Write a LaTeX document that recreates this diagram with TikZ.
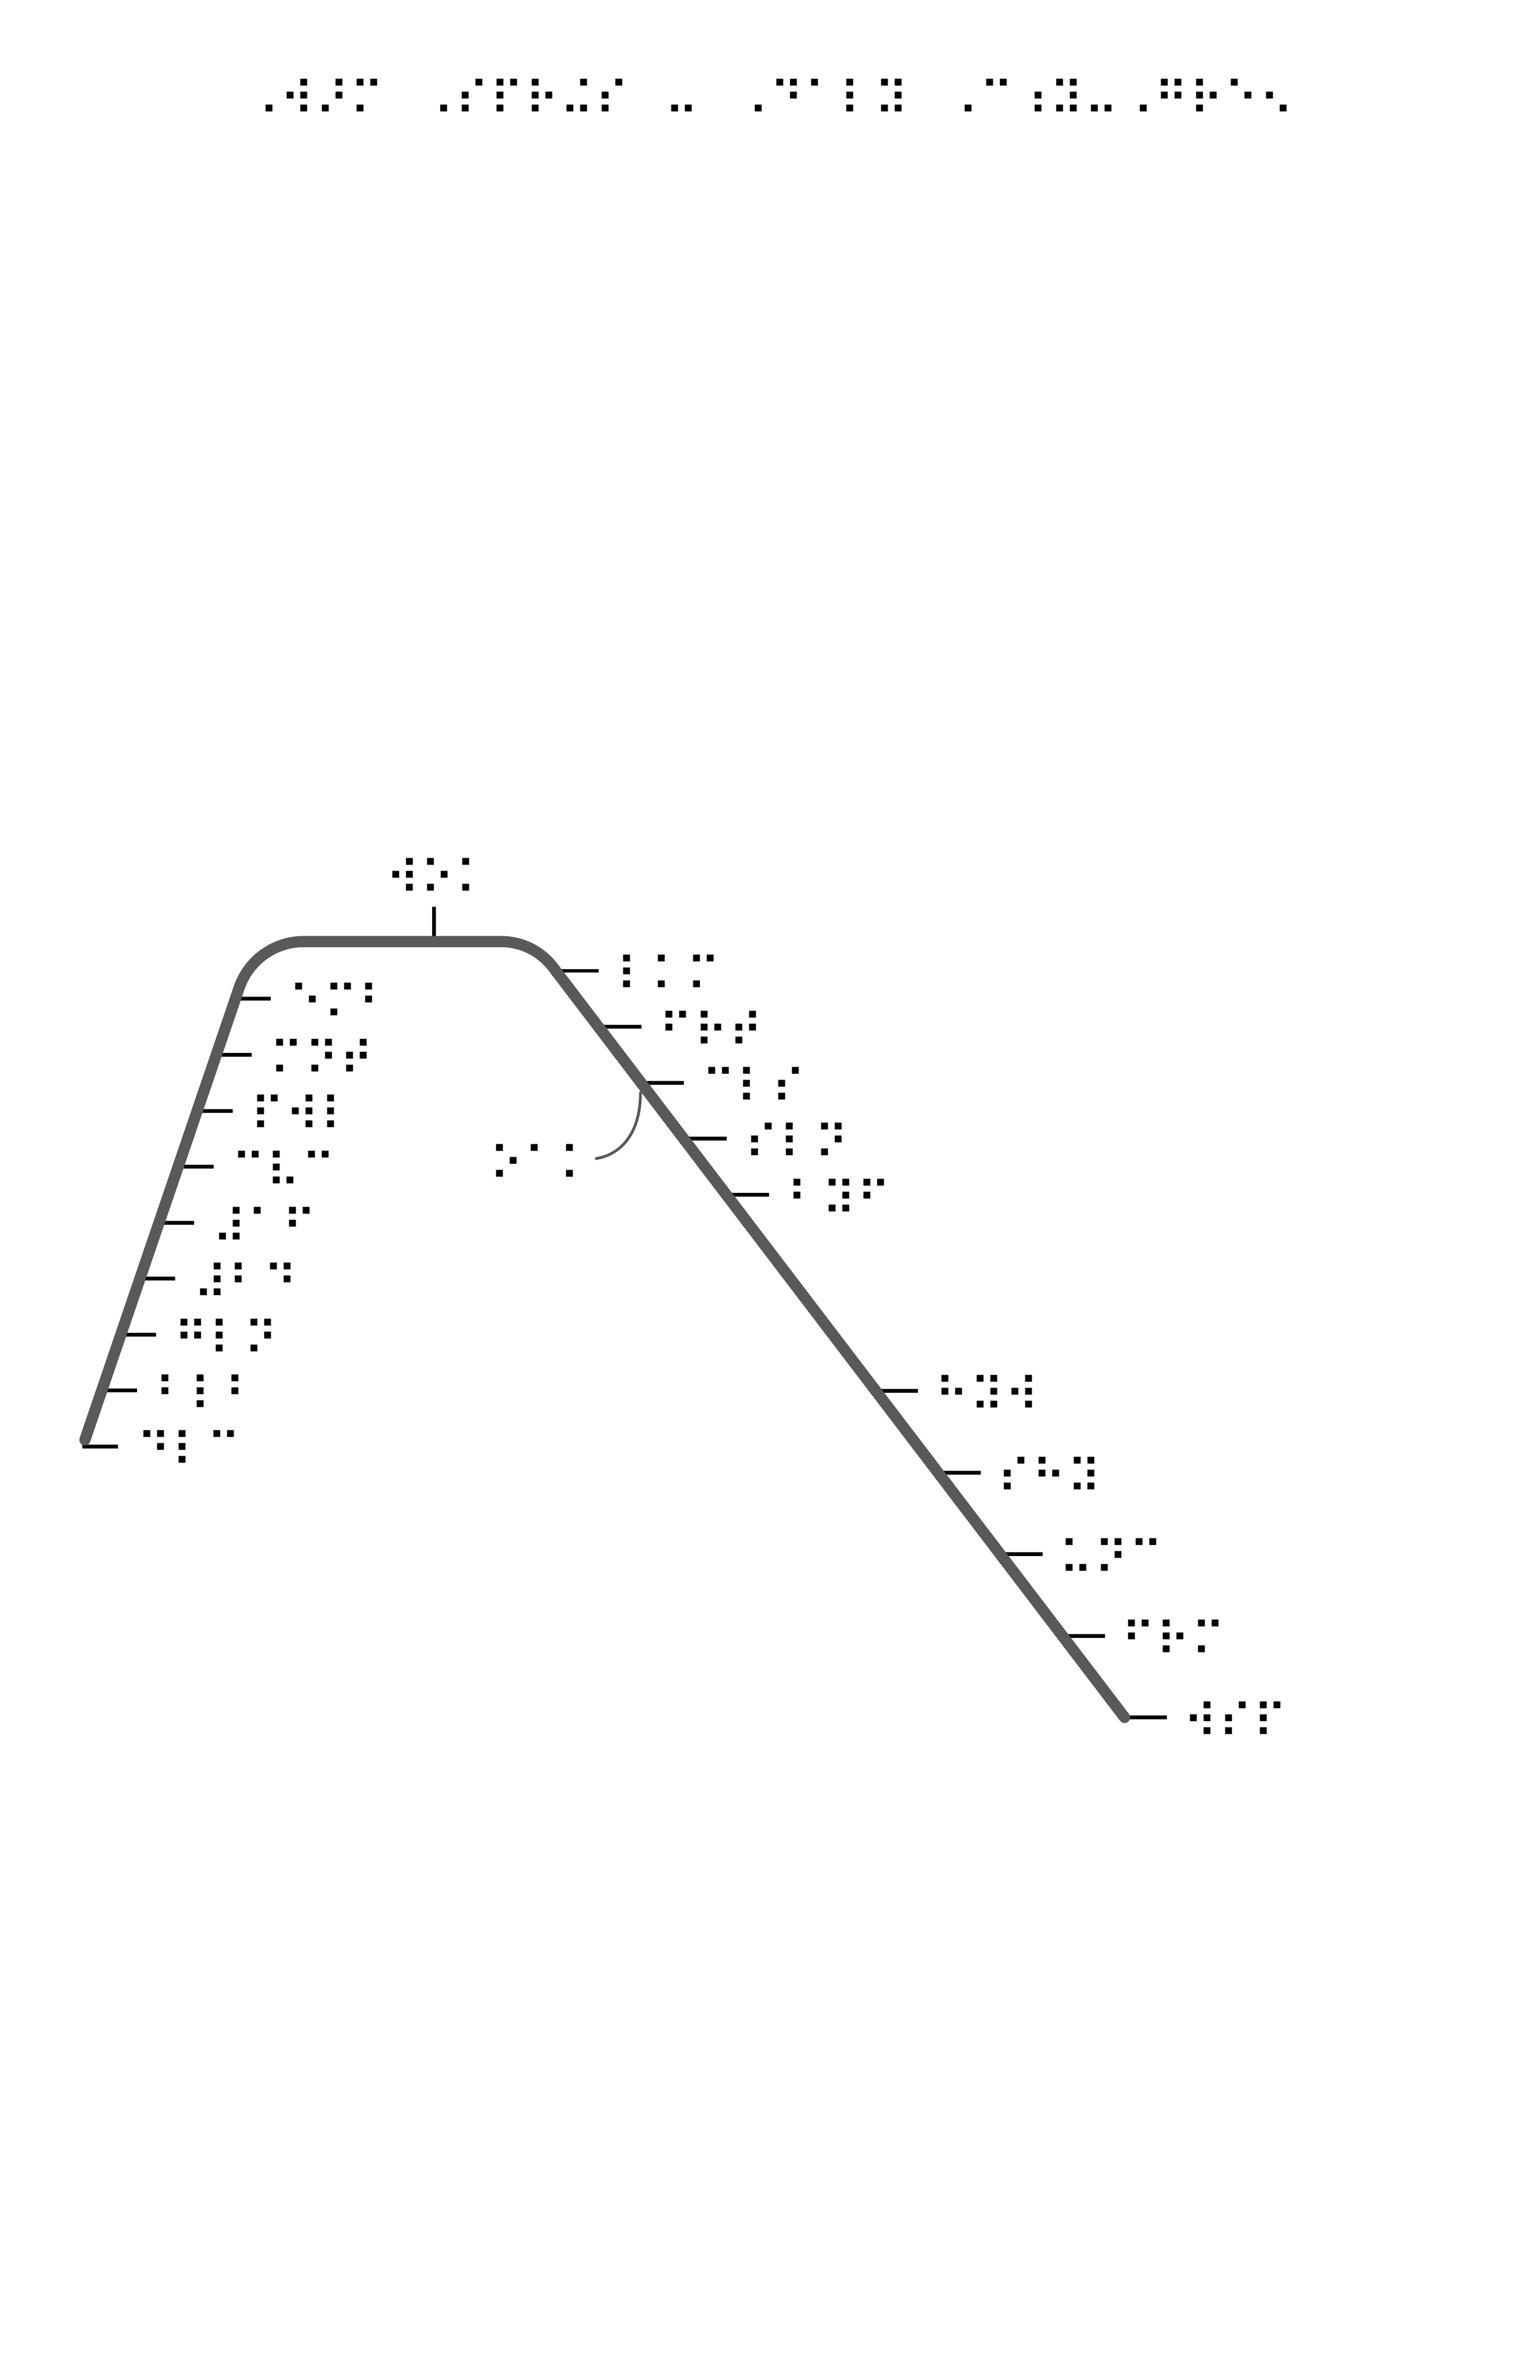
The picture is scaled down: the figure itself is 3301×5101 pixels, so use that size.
\documentclass[tikz,border=0pt]{standalone}
\usepackage{fontspec}
\newfontfamily\brfont{DejaVu Sans}
\usetikzlibrary{calc}
\definecolor{routegray}{RGB}{89,89,91}

% one braille cell every 18pt
\newcommand\brl[1]{\brlcell#1\relax}
\def\brlcell#1{\ifx#1\relax\else\makebox[18pt][l]{#1}\expandafter\brlcell\fi}

\tikzset{
  route/.style={line width=5.76pt, color=routegray, line cap=round},
  stub/.style={line width=1.92pt, color=black},
  link/.style={line width=1.44pt, color=routegray, line cap=round},
  braille/.style={font=\brfont\fontsize{24pt}{24pt}\selectfont, inner sep=0pt,
    anchor=base west, xshift=-5.6pt, yshift=-10.6pt},
}

\begin{document}
\begin{tikzpicture}[x=0.24pt,y=0.24pt,yscale=-1,xscale=1]
\useasboundingbox (0,0) rectangle (3301,5101);

% Text Node: title
\node[braille] (title) at (548.3,203.3) {\brl{⠠⠺⠜⠍⠀⠠⠎⠏⠗⠬⠎⠀⠤⠀⠠⠙⠁⠇⠽⠀⠠⠉⠰⠽⠤⠠⠛⠗⠑⠢}};

%Straight Lines: top stub
\coordinate (wok-p) at (930,2018);
\draw[stub] (wok-p) -- ++(0,-75);
\node[braille] (wok) at (849,1873) {\brl{⠺⠕⠅}};

%Straight Lines: left leg stubs
\coordinate (emb-p) at (504.6,2140.7);
\coordinate (mnt-p) at (463.6,2260.7);
\coordinate (pwl-p) at (422.6,2380.7);
\coordinate (cvc-p) at (381.6,2500.7);
\coordinate (n16-p) at (340.7,2620.7);
\coordinate (n24-p) at (299.8,2740.4);
\coordinate (gln-p) at (258.8,2860.4);
\coordinate (blb-p) at (217.8,2980.4);
\coordinate (dlc-p) at (177,3100);
\draw[stub] (emb-p) -- ++(76,0);
\draw[stub] (mnt-p) -- ++(76,0);
\draw[stub] (pwl-p) -- ++(76,0);
\draw[stub] (cvc-p) -- ++(76,0);
\draw[stub] (n16-p) -- ++(76,0);
\draw[stub] (n24-p) -- ++(76,0);
\draw[stub] (gln-p) -- ++(76,0);
\draw[stub] (blb-p) -- ++(76,0);
\draw[stub] (dlc-p) -- ++(76,0);

%Straight Lines: right leg stubs
\coordinate (lkm-p) at (1191.4,2080.7);
\coordinate (frt-p) at (1282.8,2200.7);
\coordinate (cls-p) at (1374.2,2320.7);
\coordinate (sln-p) at (1465.7,2440.7);
\coordinate (byf-p) at (1557.1,2560.7);
\coordinate (hyw-p) at (1877.4,2981);
\coordinate (shy-p) at (2011.3,3156.7);
\coordinate (unc-p) at (2144.3,3331.3);
\coordinate (frm-p) at (2277.4,3506);
\coordinate (wsp-p) at (2410.8,3681);
\draw[stub] (lkm-p) -- ++(92,0);
\draw[stub] (frt-p) -- ++(92,0);
\draw[stub] (cls-p) -- ++(92,0);
\draw[stub] (sln-p) -- ++(92,0);
\draw[stub] (byf-p) -- ++(92,0);
\draw[stub] (hyw-p) -- ++(91,0);
\draw[stub] (shy-p) -- ++(91,0);
\draw[stub] (unc-p) -- ++(91,0);
\draw[stub] (frm-p) -- ++(91,0);
\draw[stub] (wsp-p) -- ++(91,0);

%Curve: airport link
\coordinate (oak-j) at (1373,2342);
\coordinate (oak-e) at (1278,2483);
\draw[link] (oak-j) .. controls (1373,2430) and (1330,2475) .. (oak-e);
\node[braille] (oak) at (1071.7,2486.7) {\brl{⠕⠁⠅}};

%Shape: route line
\draw[route] (182,3086) -- (512.7,2117) .. controls (532.9,2057.8) and (588.5,2018) .. (651.1,2018) -- (1074.3,2018) .. controls (1118,2018) and (1159.1,2038.3) .. (1185.6,2073.1) -- (wsp-p);

% Text Node
\node[braille] (emb) at (641.6,2140.7) {\brl{⠑⠍⠃}};
\node[braille] (mnt) at (600.6,2260.7) {\brl{⠍⠝⠞}};
\node[braille] (pwl) at (559.6,2380.7) {\brl{⠏⠺⠇}};
\node[braille] (cvc) at (518.6,2500.7) {\brl{⠉⠧⠉}};
\node[braille] (n16) at (477.7,2620.7) {\brl{⠼⠁⠋}};
\node[braille] (n24) at (436.8,2740.4) {\brl{⠼⠃⠙}};
\node[braille] (gln) at (395.8,2860.4) {\brl{⠛⠇⠝}};
\node[braille] (blb) at (354.8,2980.4) {\brl{⠃⠇⠃}};
\node[braille] (dlc) at (316,3100) {\brl{⠙⠇⠉}};
% Text Node
\node[braille] (lkm) at (1343.9,2080.7) {\brl{⠇⠅⠍}};
\node[braille] (frt) at (1435.3,2200.7) {\brl{⠋⠗⠞}};
\node[braille] (cls) at (1526.7,2320.7) {\brl{⠉⠇⠎}};
\node[braille] (sln) at (1618.2,2440.7) {\brl{⠎⠇⠝}};
\node[braille] (byf) at (1709.6,2560.7) {\brl{⠃⠽⠋}};
\node[braille] (hyw) at (2026.8,2981) {\brl{⠓⠽⠺}};
\node[braille] (shy) at (2160,3156.7) {\brl{⠎⠓⠽}};
\node[braille] (unc) at (2293.2,3331.3) {\brl{⠥⠝⠉}};
\node[braille] (frm) at (2426.3,3506) {\brl{⠋⠗⠍}};
\node[braille] (wsp) at (2559.3,3681) {\brl{⠺⠎⠏}};

\end{tikzpicture}
\end{document}
